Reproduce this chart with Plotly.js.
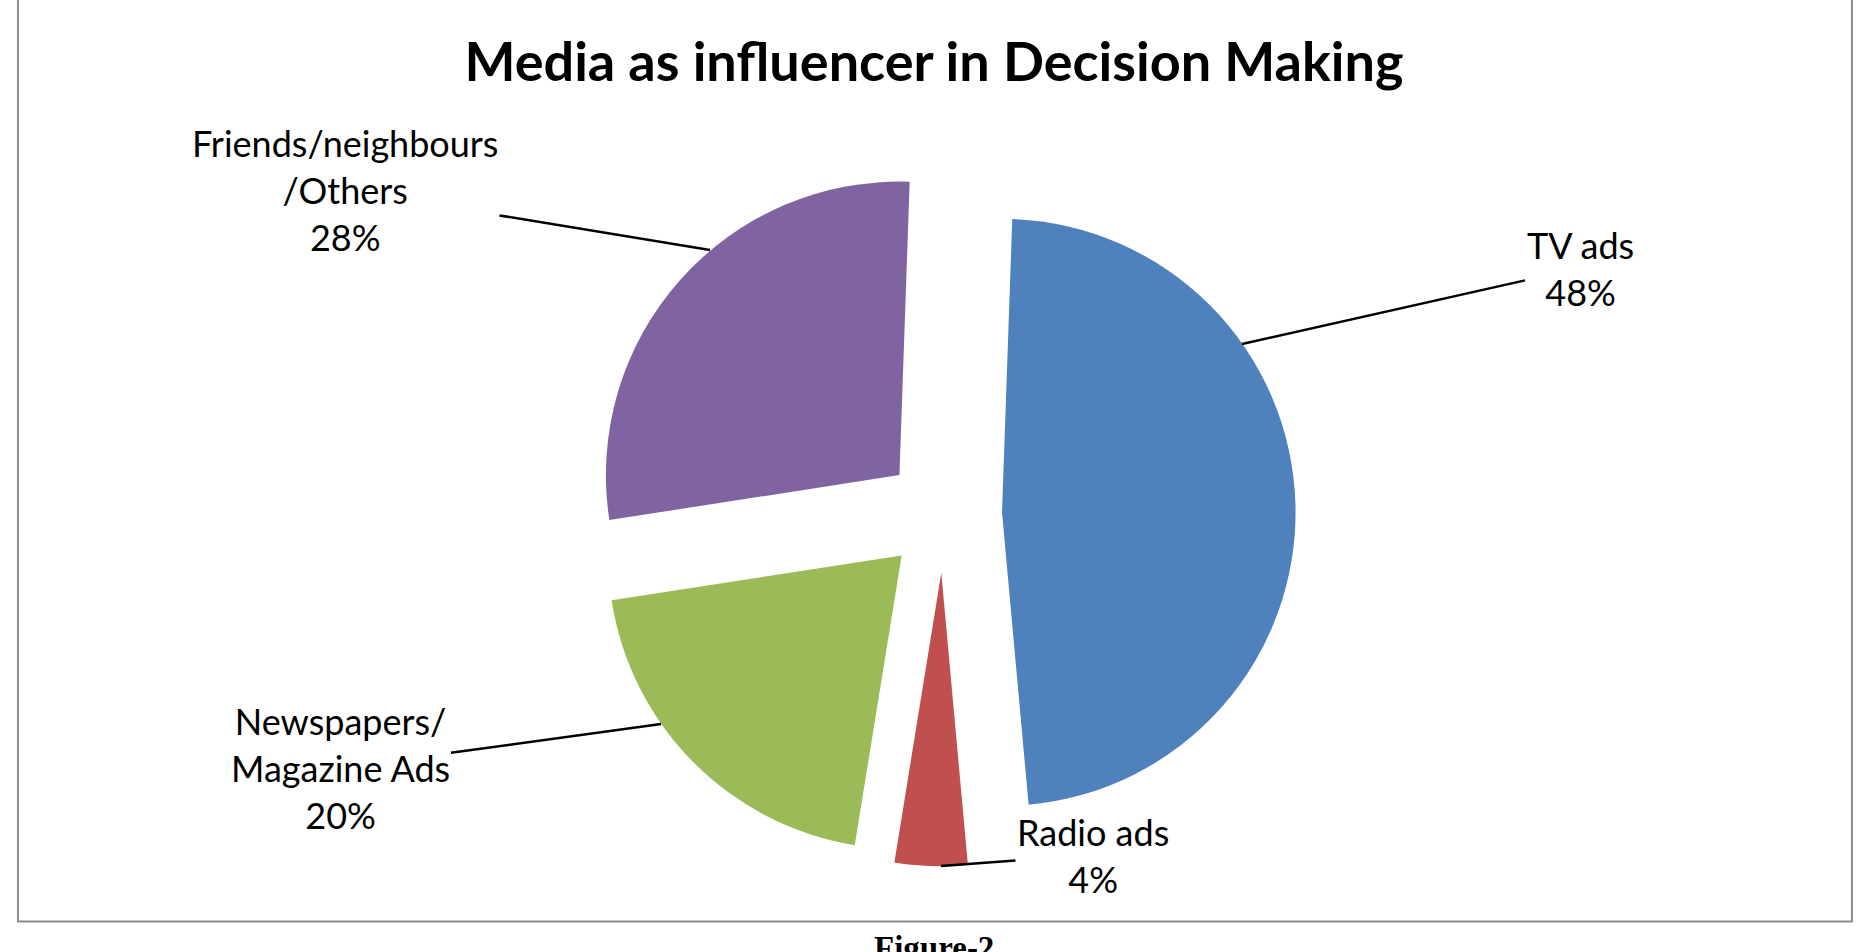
<!DOCTYPE html>
<html>
<head>
<meta charset="utf-8">
<script src="https://cdn.plot.ly/plotly-3.0.1.min.js"></script>
<style>
  html, body { margin: 0; padding: 0; background: #fff; }
  #pie { width: 1868px; height: 952px; }
</style>
</head>
<body>
<div id="pie"></div>
<script>
// values (clockwise from 12 o'clock)
var categories = ['TV ads', 'Radio ads', 'Newspapers/<br>Magazine Ads', 'Friends/neighbours<br>/Others'];
var shares = [48, 4, 20, 28];
var sliceColors = ['#4F81BD', '#C0504D', '#9BBB59', '#8064A2'];

var W = 1868, H = 952;
function px(x) { return x / W; }
function py(y) { return 1 - y / H; }

// label placement: arrow tip on the slice edge, text offset in pixels
var labelSpots = [
    { tx: 1242, ty: 344, ax: 338, ay: -76 },
    { tx: 941, ty: 866, ax: 152, ay: -11 },
    { tx: 661, ty: 724, ax: -321, ay: 44 },
    { tx: 710, ty: 250, ax: -365, ay: -60 }
];

var labelFont = { family: 'Lato, "Open Sans", sans-serif', size: 36, color: '#000' };

var labels = categories.map(function(c, i) {
    var s = labelSpots[i];
    return {
        text: c + '<br>' + shares[i] + '%',
        xref: 'paper', yref: 'paper',
        x: px(s.tx), y: py(s.ty),
        ax: s.ax, ay: s.ay,
        showarrow: true,
        arrowhead: 0,
        arrowwidth: 2.5,
        arrowcolor: '#000',
        standoff: 0,
        align: 'center',
        font: labelFont
    };
});

var trace = {
    type: 'pie',
    labels: categories,
    values: shares,
    sort: false,
    direction: 'clockwise',
    rotation: 2,
    pull: [0.2, 0.2, 0.2, 0.2],
    marker: {
        colors: sliceColors,
        line: { color: '#ffffff', width: 0 }
    },
    textinfo: 'none',
    automargin: false,
    hoverinfo: 'label+percent',
    showlegend: false,
    domain: { x: [0.255, 0.755], y: [0.09, 0.83] }
};

var layout = {
    width: W,
    height: H,
    margin: { l: 0, r: 0, t: 0, b: 0 },
    paper_bgcolor: '#ffffff',
    title: {
        text: '<b>Media as influencer in Decision Making</b>',
        font: { family: 'Lato, "Open Sans", sans-serif', size: 54, color: '#000' },
        x: 0.5,
        xanchor: 'center',
        y: 0.935,
        yanchor: 'middle'
    },
    shapes: [{
        type: 'rect',
        xref: 'paper', yref: 'paper',
        x0: 0.0096, x1: 0.9914, y0: 0.032, y1: 1.01,
        line: { color: '#8c8c8c', width: 2 }
    }],
    annotations: labels.concat([{
        text: '<b>Figure-2</b>',
        xref: 'paper', yref: 'paper',
        x: 0.5, y: 0.025,
        xanchor: 'center', yanchor: 'top',
        showarrow: false,
        font: { family: '"Liberation Serif", serif', size: 33, color: '#000' }
    }])
};

Plotly.newPlot('pie', [trace], layout, { displayModeBar: false, staticPlot: true });
</script>
</body>
</html>
